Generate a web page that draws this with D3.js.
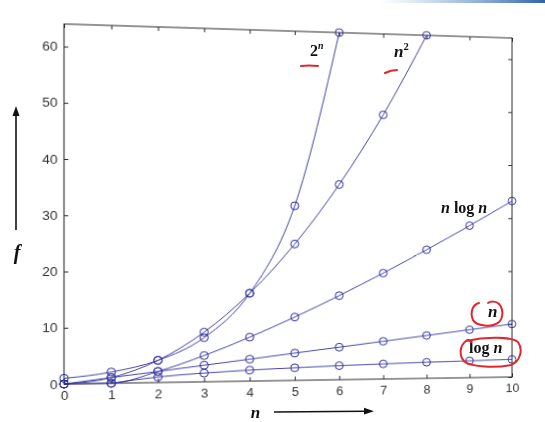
<!DOCTYPE html>
<html><head><meta charset="utf-8">
<script src="https://cdn.jsdelivr.net/npm/d3@7/dist/d3.min.js"></script>
<style>
html,body{margin:0;padding:0;background:#fff;}
#wrap{position:relative;width:545px;height:422px;overflow:hidden;background:#fff;}
#wrap svg{position:absolute;left:0;top:0;}
#plot{transform-origin:0 0;}
</style></head><body><div id="wrap"></div>
<script>
// ---- data ----
const nAll   = [0,1,2,3,4,5,6,7,8,9,10];
const nPow2  = [0,1,2,3,4,5,6];
const vPow2  = [1,2,4,8,16,32,64];
const nSq    = [0,1,2,3,4,5,6,7,8];
const vSq    = [0,1,4,9,16,25,36,49,64];
const vNLogN = [0,0,2,4.75,8,11.61,15.51,19.65,24,28.53,33.22];
const vLin   = [0,1,2,3,4,5,6,7,8,9,10];
const nLog   = [1,2,3,4,5,6,7,8,9,10];
const vLog   = [0,1,1.58,2,2.32,2.58,2.81,3,3.17,3.32];
const xTicks = [0,1,2,3,4,5,6,7,8,9,10];
const yTicks = [0,10,20,30,40,50,60];

const series = [
  {name:"2^n",     n:nPow2, v:vPow2},
  {name:"n^2",     n:nSq,   v:vSq},
  {name:"n log n", n:nAll,  v:vNLogN},
  {name:"n",       n:nAll,  v:vLin},
  {name:"log n",   n:nLog,  v:vLog}
];

const W = 545, H = 422;
const x0 = 64, x1 = 512, yTop = 24, yBot = 384;
const x = d3.scaleLinear().domain([0,10]).range([x0,x1]);
const y = d3.scaleLinear().domain([0,64]).range([yBot,yTop]);
const lineColor = "#2f2f9c";

const wrap = d3.select("#wrap");
const svg = wrap.append("svg").attr("id","plot").attr("width",W).attr("height",H);

// perspective of the photographed slide: right edge appears shorter
const rTop = 38, rBot = 377, L = x1 - x0;
const k = (yBot - yTop) / (rBot - rTop);
const al = (k - 1) / L;
const be = (rTop * k - yTop) / L;
const a1 = x0*al + k, a4 = x0 - x0*x0*al - x0*k;
const m = [a1, be, 0, al,  0, 1, 0, 0,  0, 0, 1, 0,  a4, -x0*be, 0, 1 - x0*al];
svg.style("transform", "matrix3d(" + m.join(",") + ")");

// frame
svg.append("rect").attr("x",x0).attr("y",yTop).attr("width",x1-x0).attr("height",yBot-yTop)
  .attr("fill","none").attr("stroke","#2a2a2a").attr("stroke-width",1);

function styleAxis(g){
  g.select(".domain").remove();
  g.selectAll("line").attr("stroke","#2a2a2a");
  g.selectAll("text").attr("fill","#333").style("font-family","'Liberation Sans', Arial, sans-serif").style("font-size","13px");
}
svg.append("g").attr("transform",`translate(0,${yBot})`)
  .call(d3.axisBottom(x).tickValues(xTicks).tickSizeInner(-4).tickSizeOuter(0).tickPadding(7).tickFormat(d3.format("d")))
  .call(styleAxis);
svg.append("g").attr("transform",`translate(${x0},0)`)
  .call(d3.axisLeft(y).tickValues(yTicks).tickSizeInner(-4).tickSizeOuter(0).tickPadding(6).tickFormat(d3.format("d")))
  .call(styleAxis);
svg.append("g").attr("transform",`translate(0,${yTop})`)
  .call(d3.axisTop(x).tickValues(xTicks).tickSizeInner(-4).tickSizeOuter(0).tickFormat(""))
  .call(styleAxis);
svg.append("g").attr("transform",`translate(${x1},0)`)
  .call(d3.axisRight(y).tickValues(yTicks).tickSizeInner(-4).tickSizeOuter(0).tickFormat(""))
  .call(styleAxis);

// curves and markers
const line = d3.line().x(d=>x(d[0])).y(d=>y(d[1])).curve(d3.curveMonotoneX);
series.forEach(s=>{
  const pts = s.n.map((n,i)=>[n, s.v[i]]);
  svg.append("path").datum(pts).attr("d",line).attr("fill","none")
    .attr("stroke",lineColor).attr("stroke-width",0.9);
  svg.append("g").selectAll("circle").data(pts).join("circle")
    .attr("cx",d=>x(d[0])).attr("cy",d=>y(d[1])).attr("r",4)
    .attr("fill","none").attr("stroke","#2a2aa0").attr("stroke-width",1);
});

// ---- overlay: labels, arrows, hand annotations ----
const ov = wrap.append("svg").attr("width",W).attr("height",H);
const defs = ov.append("defs");
const grad = defs.append("linearGradient").attr("id","bar");
grad.append("stop").attr("offset","0").attr("stop-color","#6a9ad6").attr("stop-opacity",0);
grad.append("stop").attr("offset","1").attr("stop-color","#2f62b0");
ov.append("rect").attr("x",380).attr("y",0).attr("width",165).attr("height",3).attr("fill","url(#bar)");

const serif = "'Liberation Serif', 'Times New Roman', serif";
function lbl(xp, yp, parts, size){
  const t = ov.append("text").attr("x",xp).attr("y",yp)
    .style("font-family",serif).style("font-size",size+"px").style("font-weight","bold").attr("fill","#111");
  parts.forEach(p=>{
    const ts = t.append("tspan").text(p.t);
    if(p.i) ts.style("font-style","italic");
    if(p.sup) ts.attr("dy",-7).style("font-size",(size*0.62)+"px");
  });
}
lbl(310, 56, [{t:"2"},{t:"n",i:true,sup:true}], 16);
lbl(394, 57, [{t:"n",i:true},{t:"2",sup:true}], 17);
lbl(441, 213, [{t:"n",i:true},{t:" log "},{t:"n",i:true}], 16);
lbl(488, 317, [{t:"n",i:true}], 17);
lbl(469, 353, [{t:"log "},{t:"n",i:true}], 16);

// axis names
ov.append("text").attr("x",17).attr("y",259).attr("text-anchor","middle")
  .style("font-family",serif).style("font-size","20px").style("font-style","italic").style("font-weight","bold")
  .attr("fill","#111").text("f");
ov.append("text").attr("x",255.5).attr("y",418).attr("text-anchor","middle")
  .style("font-family",serif).style("font-size","17px").style("font-style","italic").style("font-weight","bold")
  .attr("fill","#111").text("n");

// arrows
ov.append("line").attr("x1",16).attr("y1",230).attr("x2",16).attr("y2",114).attr("stroke","#111").attr("stroke-width",1.6);
ov.append("path").attr("d","M16,106 L12.5,116 L19.5,116 Z").attr("fill","#111");
ov.append("line").attr("x1",274).attr("y1",412).attr("x2",365).attr("y2",411.3).attr("stroke","#111").attr("stroke-width",1.6);
ov.append("path").attr("d","M374,411.2 L364,407.8 L364,414.6 Z").attr("fill","#111");

// red hand annotations
const red = "#e3262b";
const hand = [
  "M301,66 C306,65.5 312,65.5 318,66",
  "M385,73 C388,71.5 392,70 397,70",
  "M479,303 C472,305 470,313 473,320 C476,326 492,328 499,322 C504,317 503,308 499,304 C496,301 491,301 488,303",
  "M466,341 C488,336 512,337 518,342 C523,349 521,361 511,365 C495,368 472,367 465,362 C459,357 459,346 466,341 C468,339 470,340 471,342"
];
hand.forEach(d=>ov.append("path").attr("d",d).attr("fill","none").attr("stroke",red)
  .attr("stroke-width",2).attr("stroke-linecap","round"));
</script></body></html>
